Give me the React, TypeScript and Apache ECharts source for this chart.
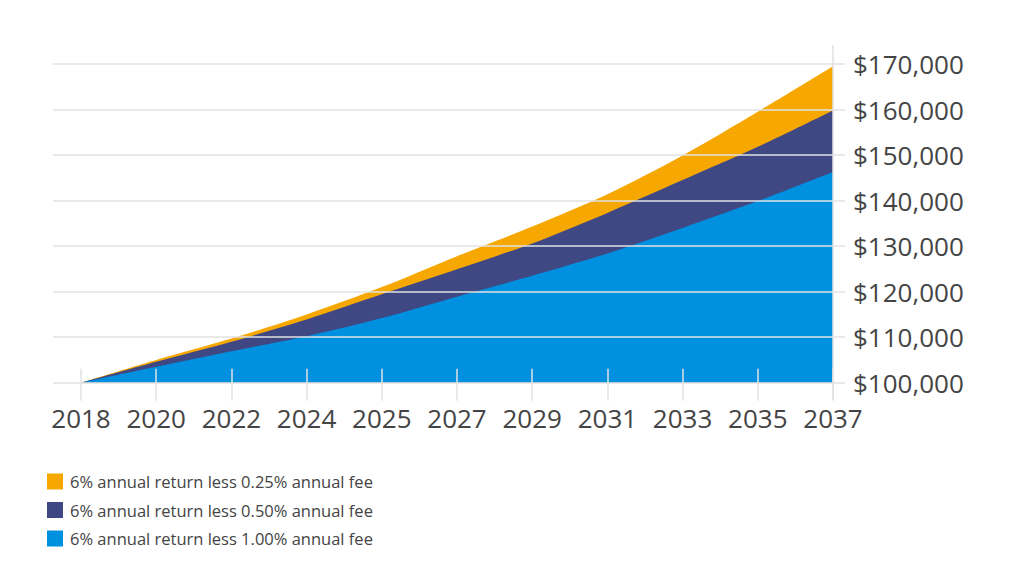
import React, { useEffect, useRef } from "react";
import * as echarts from "echarts";

const years = ["2018", "2020", "2022", "2024", "2025", "2027", "2029", "2031", "2033", "2035", "2037"];
const fee025 = [100000, 105000, 109700, 115000, 121000, 127800, 134300, 141400, 149900, 159500, 169500];
const fee050 = [100000, 104600, 109000, 113900, 119400, 124900, 130600, 137300, 144500, 151800, 159800];
const fee100 = [100000, 103500, 106900, 110200, 114200, 118900, 123500, 128400, 134000, 139900, 146300];
const seriesNames = [
  "6% annual return less 0.25% annual fee",
  "6% annual return less 0.50% annual fee",
  "6% annual return less 1.00% annual fee",
];
const colors = ["#F7A800", "#3F4883", "#0090E0"];

const FONT = "'Open Sans', 'Noto Sans', sans-serif";
const GRID_COLOR = "#e2e2e2";

export default function App() {
  const ref = useRef<HTMLDivElement>(null);
  useEffect(() => {
    if (!ref.current) return;
    const chart = echarts.init(ref.current, undefined, { renderer: "svg" });
    const mkSeries = (i: number, data: number[]) => ({
      name: seriesNames[i],
      type: "line",
      xAxisIndex: 0,
      yAxisIndex: 0,
      data,
      smooth: 0.3,
      symbol: "none",
      lineStyle: { width: 0 },
      itemStyle: { color: colors[i] },
      areaStyle: { color: colors[i], opacity: 1, origin: "start" },
      z: 2 + i * 0.01,
    });
    chart.setOption({
      animation: false,
      backgroundColor: "#ffffff",
      grid: [
        { left: 81, right: 191, top: 64, bottom: 204.3 },
        { left: 53, width: 28, top: 64, bottom: 204.3 },
      ],
      legend: {
        orient: "vertical",
        left: 42,
        top: 468,
        itemWidth: 16,
        itemHeight: 16,
        itemGap: 11.5,
        icon: "rect",
        data: seriesNames,
        textStyle: { fontFamily: FONT, fontSize: 16.5, lineHeight: 16, color: "#444", padding: [0, 0, 0, 2] },
        selectedMode: false,
      },
      xAxis: [
        {
          type: "category",
          gridIndex: 0,
          data: years,
          boundaryGap: false,
          position: "bottom",
          axisLine: { show: false },
          axisTick: {
            show: true,
            interval: 0,
            length: 18,
            lineStyle: { color: GRID_COLOR, width: 1.5 },
          },
          axisLabel: {
            interval: 0,
            margin: 22,
            fontFamily: FONT,
            fontSize: 26,
            color: "#444",
          },
          splitLine: { show: false },
        },
        {
          type: "category",
          gridIndex: 0,
          data: years,
          boundaryGap: false,
          position: "bottom",
          z: 5,
          axisLine: { show: false },
          axisTick: {
            show: true,
            inside: true,
            interval: 0,
            length: 14,
            lineStyle: { color: GRID_COLOR, width: 1.5 },
          },
          axisLabel: { show: false },
          splitLine: { show: false },
        },
        {
          type: "value",
          gridIndex: 1,
          show: false,
          min: 0,
          max: 1,
        },
      ],
      yAxis: [
        {
          type: "value",
          gridIndex: 0,
          position: "right",
          min: 100000,
          max: 170000,
          interval: 10000,
          z: 4,
          axisLine: { show: false },
          axisTick: { show: true, length: 12, lineStyle: { color: GRID_COLOR, width: 1.5 } },
          axisLabel: {
            margin: 20,
            fontFamily: FONT,
            fontSize: 26,
            color: "#444",
            formatter: (v: number) => "$" + v.toLocaleString("en-US"),
          },
          splitLine: { show: true, lineStyle: { color: GRID_COLOR, width: 1.5 } },
        },
        {
          type: "value",
          gridIndex: 1,
          min: 100000,
          max: 170000,
          interval: 10000,
          axisLine: { show: false },
          axisTick: { show: false },
          axisLabel: { show: false },
          splitLine: { show: true, lineStyle: { color: GRID_COLOR, width: 1.5 } },
        },
      ],
      graphic: [
        {
          type: "line",
          shape: { x1: 833, y1: 45, x2: 833, y2: 400 },
          style: { stroke: GRID_COLOR, lineWidth: 1.5 },
          z: 10,
        },
      ],
      series: [mkSeries(0, fee025), mkSeries(1, fee050), mkSeries(2, fee100)],
    });
    return () => chart.dispose();
  }, []);
  return (
    <div
      ref={ref}
      style={{ position: "fixed", left: 0, top: 0, width: 1024, height: 587, background: "#fff" }}
    />
  );
}
